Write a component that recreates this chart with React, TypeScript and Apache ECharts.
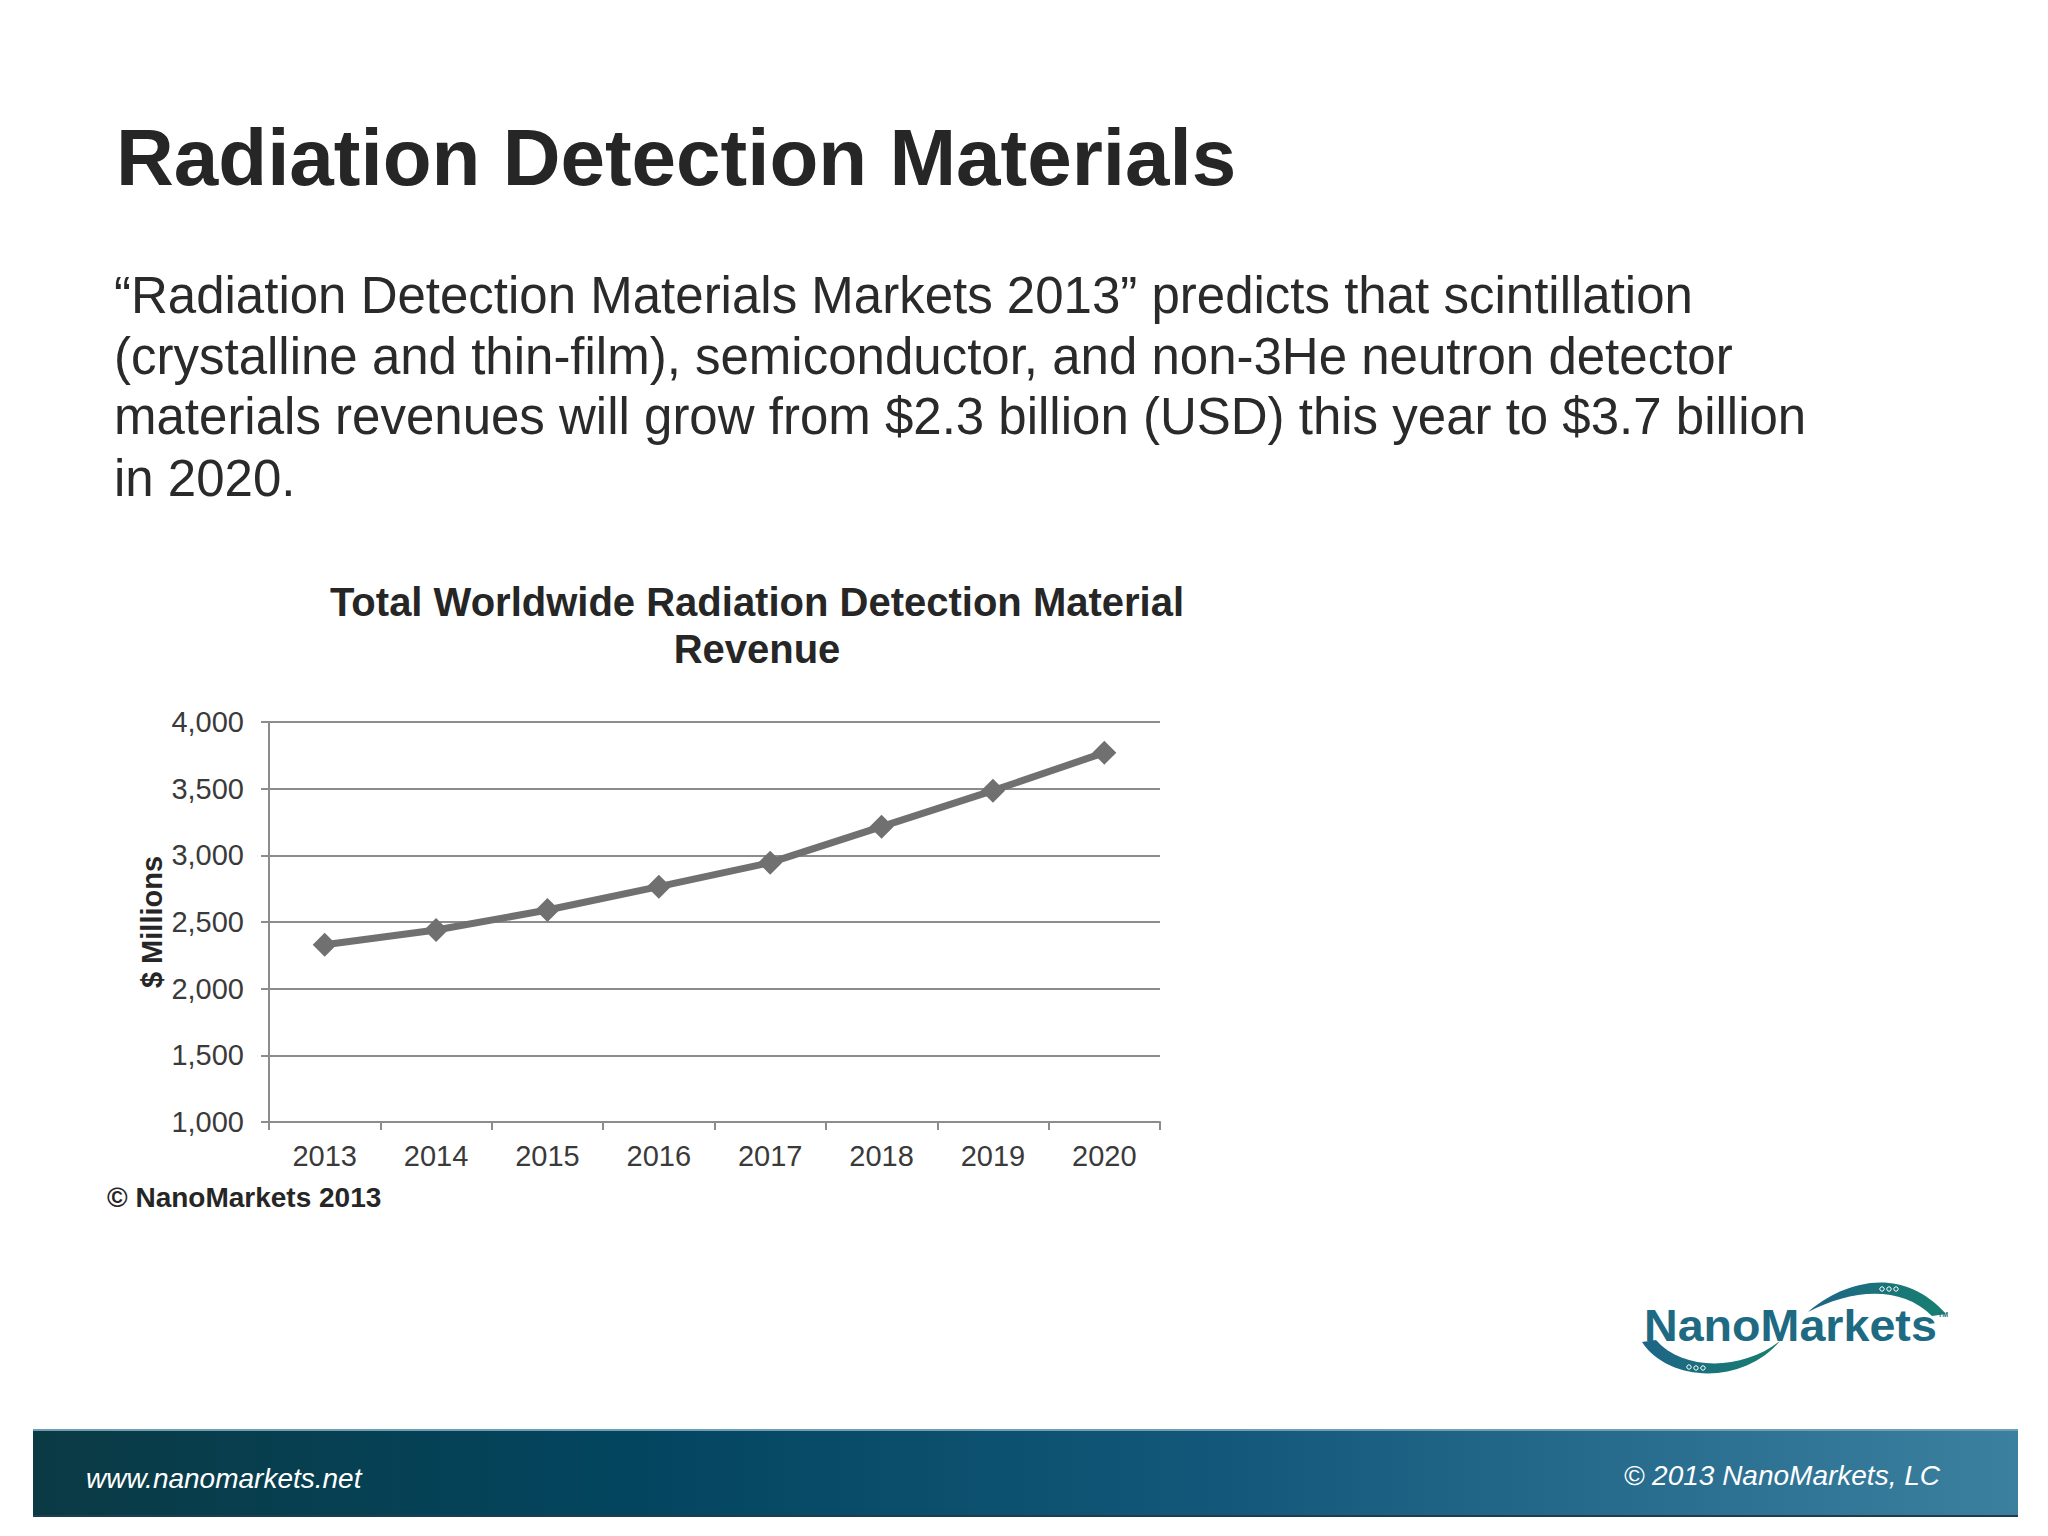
import React, { useEffect, useRef } from 'react';
import * as echarts from 'echarts';

const years = ['2013', '2014', '2015', '2016', '2017', '2018', '2019', '2020'];
const revenue = [2330, 2440, 2590, 2765, 2945, 3215, 3485, 3770];
const yMin = 1000;
const yMax = 4000;
const yStep = 500;

const slideTitle = 'Radiation Detection Materials';
const bodyLines = [
  '“Radiation Detection Materials Markets 2013” predicts that scintillation',
  '(crystalline and thin-film), semiconductor, and non-3He neutron detector',
  'materials revenues will grow from $2.3 billion (USD) this year to $3.7 billion',
  'in 2020.',
];
const chartTitleLines = ['Total Worldwide Radiation Detection Material', 'Revenue'];
const yAxisName = '$ Millions';
const sourceNote = '© NanoMarkets 2013';
const footerLeft = 'www.nanomarkets.net';
const footerRight = '© 2013 NanoMarkets, LC';
const logoText = 'NanoMarkets';

const FONT = '"Liberation Sans", Arial, Helvetica, sans-serif';

echarts.graphic.registerShape(
  'swooshTop',
  echarts.graphic.extendPath(
    'M1808,1312 C1840,1284 1900,1262 1946,1314 L1932,1316 C1900,1284 1850,1290 1808,1312 Z',
    {}
  ) as any
);
echarts.graphic.registerShape(
  'swooshBottom',
  echarts.graphic.extendPath(
    'M1642,1342 C1668,1382 1742,1386 1780,1341 C1740,1372 1682,1370 1656,1340 Z',
    {}
  ) as any
);

const fmt = (v: number) => String(v).replace(/\B(?=(\d{3})+(?!\d))/g, ',');

export default function App() {
  const ref = useRef<HTMLDivElement>(null);

  useEffect(() => {
    if (!ref.current) return;
    const chart = echarts.init(ref.current, undefined, { renderer: 'svg' });

    const logoGrad = new echarts.graphic.LinearGradient(0, 0, 1, 0, [
      { offset: 0, color: '#1f6488' },
      { offset: 1, color: '#17806f' },
    ]);

    const dots = (pts: number[][]) =>
      pts.map(([cx, cy]) => ({
        type: 'circle',
        shape: { cx, cy, r: 2.2 },
        style: { fill: 'none', stroke: '#ffffff', lineWidth: 1 },
      }));

    const graphics: any[] = [
      {
        type: 'text',
        style: {
          text: slideTitle,
          x: 116,
          y: 157,
          fill: '#262626',
          font: `bold 80px ${FONT}`,
          verticalAlign: 'middle',
        },
      },
      ...bodyLines.map((t, i) => ({
        type: 'text',
        style: {
          text: t,
          x: 114,
          y: [295, 356, 416, 478][i],
          fill: '#2a2a2a',
          font: `51px ${FONT}`,
          verticalAlign: 'middle',
        },
      })),
      ...chartTitleLines.map((t, i) => ({
        type: 'text',
        style: {
          text: t,
          x: 757,
          y: [602, 649][i],
          fill: '#262626',
          font: `bold 40px ${FONT}`,
          align: 'center',
          verticalAlign: 'middle',
        },
      })),
      {
        type: 'text',
        style: {
          text: sourceNote,
          x: 107,
          y: 1197,
          fill: '#262626',
          font: `bold 28px ${FONT}`,
          verticalAlign: 'middle',
        },
      },
      // footer band
      {
        type: 'rect',
        shape: { x: 33, y: 1430, width: 1985, height: 86 },
        style: {
          fill: new echarts.graphic.LinearGradient(0, 0, 1, 0, [
            { offset: 0, color: '#0a3a44' },
            { offset: 0.3, color: '#03455f' },
            { offset: 0.6, color: '#13587a' },
            { offset: 1, color: '#3c80a0' },
          ]),
        },
      },
      {
        type: 'rect',
        shape: { x: 33, y: 1429, width: 1985, height: 2 },
        style: { fill: '#6e9fb6' },
      },
      {
        type: 'rect',
        shape: { x: 33, y: 1515, width: 1985, height: 2 },
        style: { fill: '#1d3f4c' },
      },
      {
        type: 'text',
        style: {
          text: footerLeft,
          x: 86,
          y: 1478,
          fill: '#ffffff',
          font: `italic 28px ${FONT}`,
          verticalAlign: 'middle',
        },
      },
      {
        type: 'text',
        style: {
          text: footerRight,
          x: 1940,
          y: 1475,
          fill: '#ffffff',
          font: `italic 28px ${FONT}`,
          align: 'right',
          verticalAlign: 'middle',
        },
      },
      // logo
      { type: 'swooshTop', style: { fill: logoGrad } },
      { type: 'swooshBottom', style: { fill: logoGrad } },
      ...dots([
        [1882, 1289],
        [1889, 1289],
        [1896, 1289],
        [1689, 1367],
        [1696, 1368],
        [1703, 1368],
      ]),
      {
        type: 'text',
        x: 1644,
        y: 1326,
        scaleX: 1.06,
        style: {
          text: logoText,
          x: 0,
          y: 0,
          fill: '#1d6a82',
          font: `bold 44px ${FONT}`,
          verticalAlign: 'middle',
        },
      },
      {
        type: 'text',
        style: {
          text: 'TM',
          x: 1938,
          y: 1314,
          fill: '#1d6f7a',
          font: `bold 7px ${FONT}`,
          verticalAlign: 'middle',
        },
      },
    ];

    chart.setOption({
      animation: false,
      backgroundColor: '#ffffff',
      grid: { left: 269, top: 722, width: 891, height: 400, containLabel: false },
      xAxis: {
        type: 'category',
        data: years,
        boundaryGap: true,
        axisLine: { show: true, lineStyle: { color: '#8c8c8c', width: 2 } },
        axisTick: { show: true, length: 8, interval: 0, lineStyle: { color: '#8c8c8c', width: 2 } },
        axisLabel: { color: '#3a3a3a', fontFamily: FONT, fontSize: 29, margin: 19, interval: 0 },
        splitLine: { show: false },
      },
      yAxis: {
        type: 'value',
        min: yMin,
        max: yMax,
        interval: yStep,
        name: yAxisName,
        nameLocation: 'middle',
        nameGap: 103,
        nameRotate: 90,
        nameTextStyle: { color: '#262626', fontFamily: FONT, fontSize: 29, fontWeight: 'bold' },
        axisLine: { show: true, lineStyle: { color: '#8c8c8c', width: 2 } },
        axisTick: { show: true, length: 8, lineStyle: { color: '#8c8c8c', width: 2 } },
        axisLabel: { color: '#3a3a3a', fontFamily: FONT, fontSize: 29, margin: 25, formatter: fmt },
        splitLine: { show: true, lineStyle: { color: '#8c8c8c', width: 2 } },
      },
      series: [
        {
          type: 'line',
          data: revenue,
          symbol: 'diamond',
          symbolSize: 24,
          lineStyle: { color: '#707070', width: 7 },
          itemStyle: { color: '#707070' },
          z: 3,
        },
      ],
      graphic: graphics,
    });

    return () => chart.dispose();
  }, []);

  return (
    <div
      ref={ref}
      style={{ position: 'absolute', left: 0, top: 0, width: 2048, height: 1536, background: '#ffffff' }}
    />
  );
}
